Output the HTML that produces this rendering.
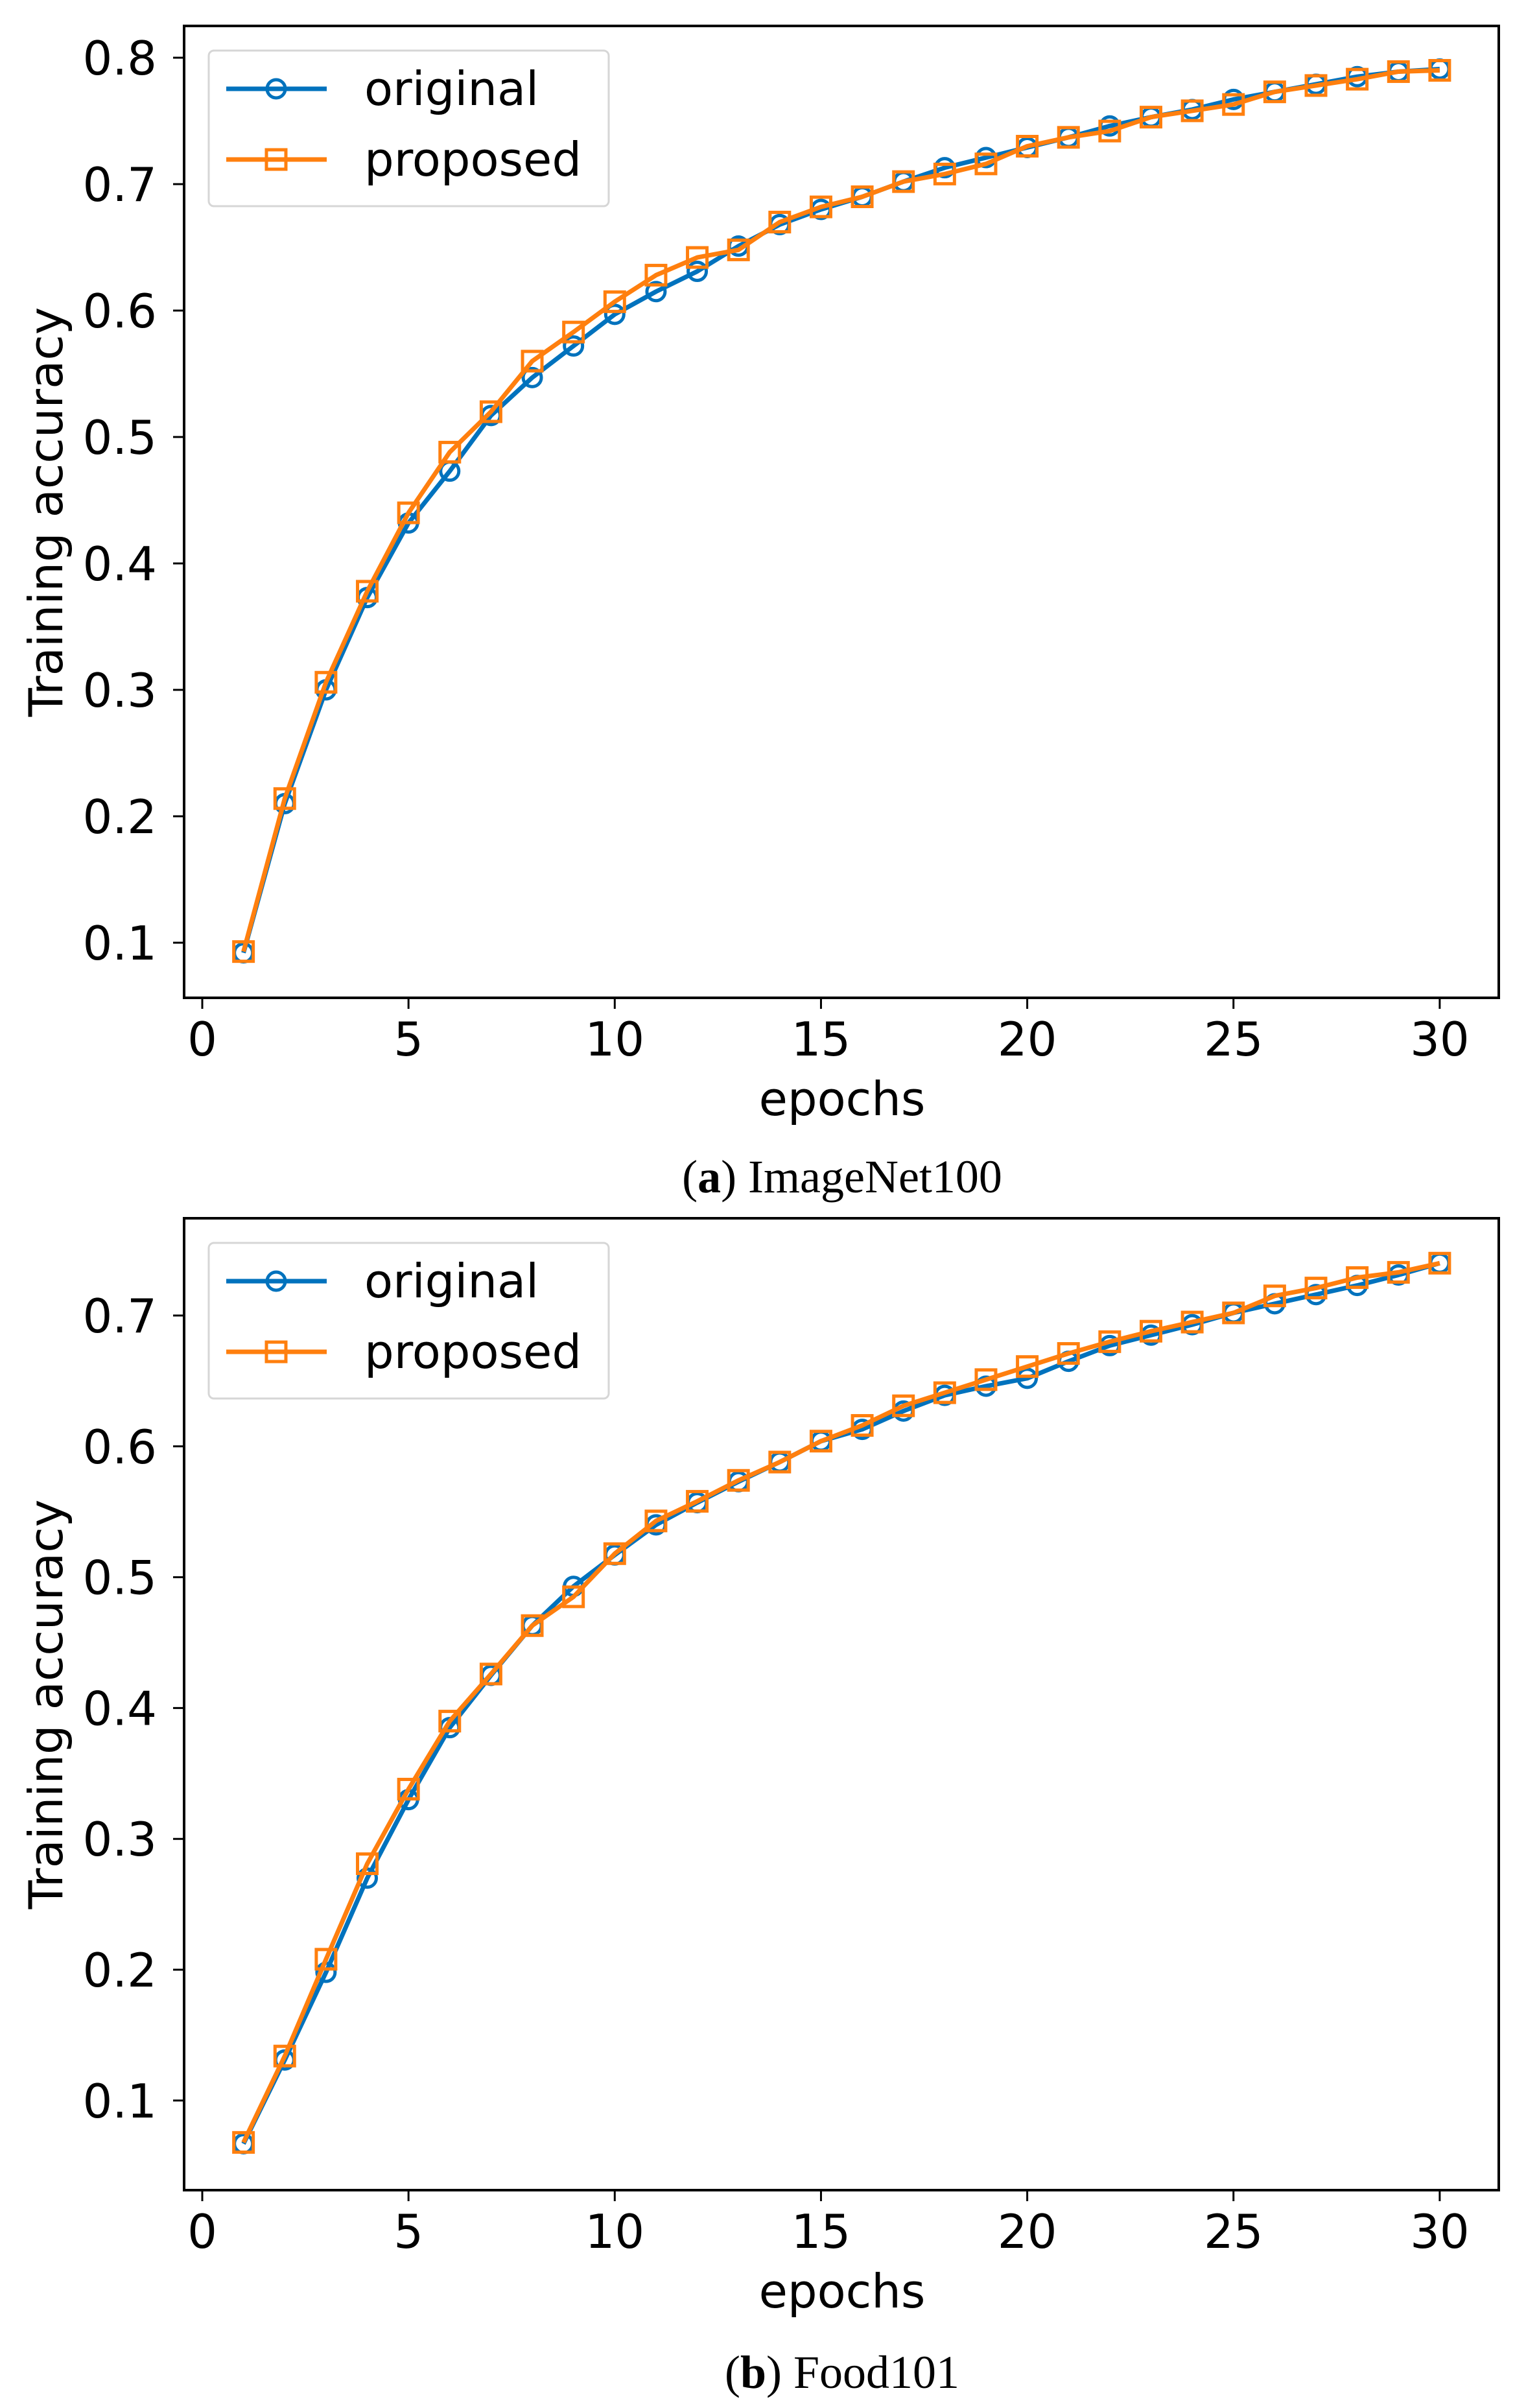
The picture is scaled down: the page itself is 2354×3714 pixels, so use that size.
<!DOCTYPE html>
<html><head><meta charset="utf-8"><style>
html,body{margin:0;padding:0;background:#fff;}
svg{display:block;}
text{font-family:"DejaVu Sans","Liberation Sans",sans-serif;fill:#000;}
</style></head><body>
<svg id="s" width="2354" height="3714" viewBox="0 0 2354 3714" xmlns="http://www.w3.org/2000/svg">
<rect width="2354" height="3714" fill="#fff"/>
<text x="1299" y="1839" font-size="72" text-anchor="middle" style="font-family:'Liberation Serif',serif">(<tspan font-weight="bold">a</tspan>) ImageNet100</text>
<text x="1299" y="3683" font-size="72" text-anchor="middle" style="font-family:'Liberation Serif',serif">(<tspan font-weight="bold">b</tspan>) Food101</text>
</svg>
<script>
var s=document.getElementById('s'),NS='http://www.w3.org/2000/svg';
function el(t,a,txt){var e=document.createElementNS(NS,t);for(var k in a)e.setAttribute(k,a[k]);if(txt!=null)e.textContent=txt;s.appendChild(e);return e;}
var A={top:40,bot:1539,y0:89,v0:0.8,pp:1950,ticks:[0.1,0.2,0.3,0.4,0.5,0.6,0.7,0.8],
o:[0.092,0.21,0.30,0.373,0.432,0.473,0.517,0.547,0.572,0.597,0.615,0.631,0.651,0.668,0.680,0.690,0.702,0.713,0.721,0.729,0.737,0.746,0.753,0.759,0.767,0.773,0.779,0.785,0.789,0.791],
p:[0.093,0.214,0.306,0.378,0.44,0.488,0.52,0.56,0.583,0.607,0.628,0.642,0.648,0.67,0.682,0.69,0.702,0.708,0.716,0.73,0.737,0.742,0.753,0.758,0.763,0.773,0.778,0.783,0.789,0.79]};
var B={top:1879,bot:3378,y0:2029,v0:0.7,pp:2018,ticks:[0.1,0.2,0.3,0.4,0.5,0.6,0.7],
o:[0.067,0.131,0.198,0.270,0.330,0.385,0.425,0.463,0.493,0.517,0.540,0.557,0.573,0.588,0.604,0.613,0.627,0.639,0.646,0.652,0.665,0.677,0.685,0.693,0.702,0.709,0.716,0.723,0.731,0.740],
p:[0.068,0.134,0.208,0.281,0.338,0.390,0.426,0.463,0.485,0.518,0.543,0.558,0.574,0.588,0.604,0.616,0.631,0.641,0.651,0.661,0.671,0.680,0.688,0.695,0.702,0.715,0.721,0.729,0.733,0.740]};
var L=284,R=2312,BL='#0072bd',OR='#ff7f0e';
function X(e){return 312+e*63.63;}
[A,B].forEach(function(P){
 function Y(v){return P.y0+(P.v0-v)*P.pp;}
 el('rect',{x:L,y:P.top,width:R-L,height:P.bot-P.top,fill:'none',stroke:'#000','stroke-width':4});
 P.ticks.forEach(function(t){var y=Y(t);el('line',{x1:L-17,x2:L,y1:y,y2:y,stroke:'#000','stroke-width':3});
  el('text',{x:242,y:y+26,'font-size':72,'text-anchor':'end'},t.toFixed(1));});
 for(var e=0;e<=30;e+=5){var x=X(e);el('line',{x1:x,x2:x,y1:P.bot,y2:P.bot+17,stroke:'#000','stroke-width':3});
  el('text',{x:x,y:P.bot+89,'font-size':72,'text-anchor':'middle'},''+e);}
 el('text',{x:1299,y:P.bot+181,'font-size':72,'text-anchor':'middle'},'epochs');
 var cy=(P.top+P.bot)/2;
 el('text',{x:0,y:0,'font-size':72,'text-anchor':'middle',transform:'translate(96,'+cy+') rotate(-90)'},'Training accuracy');
 var po=P.o.map(function(v,i){return X(i+1)+','+Y(v);}).join(' ');
 var pp=P.p.map(function(v,i){return X(i+1)+','+Y(v);}).join(' ');
 el('polyline',{points:po,fill:'none',stroke:BL,'stroke-width':7,'stroke-linejoin':'round'});
 P.o.forEach(function(v,i){el('circle',{cx:X(i+1),cy:Y(v),r:14,fill:'none',stroke:BL,'stroke-width':5});});
 el('polyline',{points:pp,fill:'none',stroke:OR,'stroke-width':7,'stroke-linejoin':'round'});
 P.p.forEach(function(v,i){el('rect',{x:X(i+1)-15,y:Y(v)-15,width:30,height:30,fill:'none',stroke:OR,'stroke-width':5});});
 var t=P.top;
 el('rect',{x:322,y:t+38,width:617,height:240,rx:8,fill:'#fff','fill-opacity':0.8,stroke:'#d6d6d6','stroke-width':3});
 el('line',{x1:349,x2:504,y1:t+97,y2:t+97,stroke:BL,'stroke-width':7});
 el('circle',{cx:426,cy:t+97,r:14,fill:'none',stroke:BL,'stroke-width':5});
 el('text',{x:562,y:t+122,'font-size':72},'original');
 el('line',{x1:349,x2:504,y1:t+206,y2:t+206,stroke:OR,'stroke-width':7});
 el('rect',{x:411,y:t+191,width:30,height:30,fill:'none',stroke:OR,'stroke-width':5});
 el('text',{x:562,y:t+231,'font-size':72},'proposed');
});
</script>
</body></html>
